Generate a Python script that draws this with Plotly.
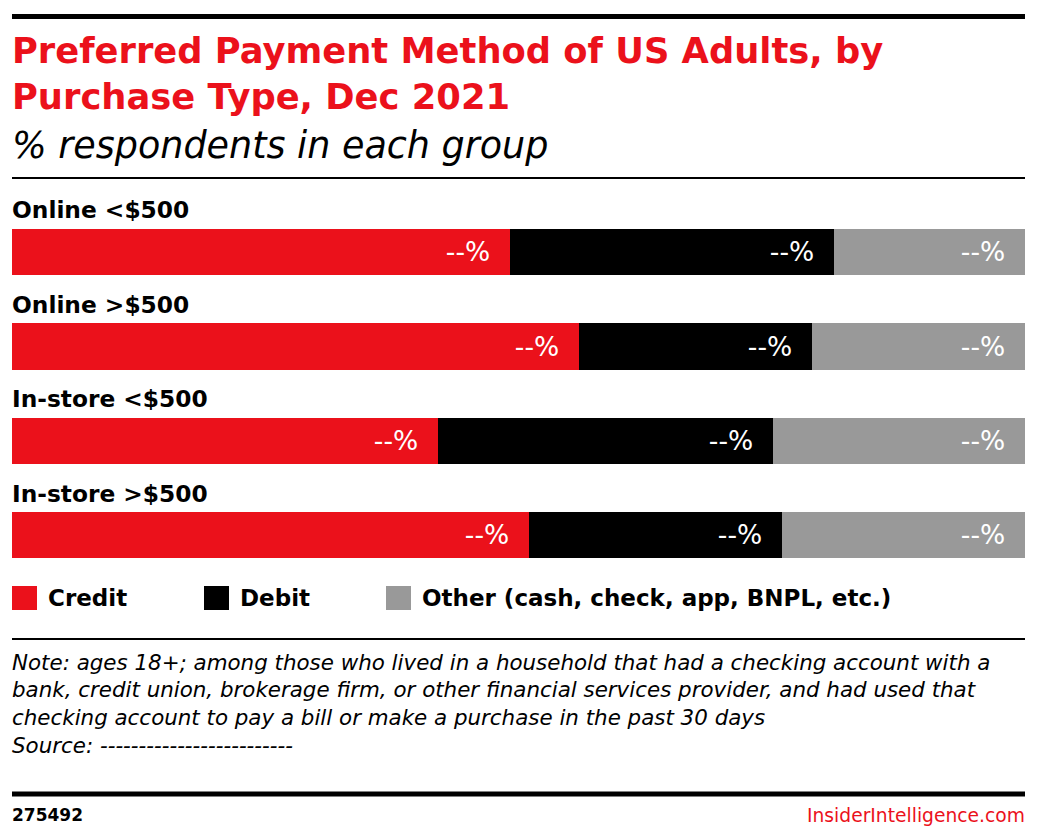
import plotly.graph_objects as go

W, H = 1038, 839

categories = ["Online <$500", "Online >$500", "In-store <$500", "In-store >$500"]
credit = [49.2, 56.0, 42.1, 51.0]
debit = [31.9, 23.0, 33.0, 25.0]
other = [18.9, 21.0, 24.9, 24.0]
bar_labels = ["--%", "--%", "--%", "--%"]
series_names = ["Credit", "Debit", "Other (cash, check, app, BNPL, etc.)"]
colors = ["#EB111B", "#000000", "#999999"]

RED = "#EB111B"
FONT = "DejaVu Sans"


def px(x):
    return x / W


def py(y):
    return 1 - y / H


ypos = list(range(len(categories)))

fig = go.Figure()
for name, vals, col in zip(series_names, [credit, debit, other], colors):
    fig.add_trace(go.Bar(
        y=ypos, x=vals, orientation="h", name=name,
        marker=dict(color=col, line=dict(width=0)),
        width=0.49,
        text=[t + "\u00a0\u00a0" for t in bar_labels],
        textposition="inside", insidetextanchor="end",
        textfont=dict(color="white", size=26.5, family=FONT),
        showlegend=False, hoverinfo="skip",
    ))

annotations = []
shapes = []


def txt(x, y, text, size, color="black", xanchor="left", yanchor="middle"):
    annotations.append(dict(x=px(x), y=py(y), xref="paper", yref="paper", text=text,
                            showarrow=False, xanchor=xanchor, yanchor=yanchor,
                            align="left", font=dict(size=size, family=FONT, color=color)))


# category labels above bars
for i, c in enumerate(categories):
    annotations.append(dict(x=0, y=i, xref="x", yref="y", text=f"<b>{c}</b>",
                            showarrow=False, xanchor="left", yanchor="middle",
                            yshift=42, xshift=-2,
                            font=dict(size=23.3, family=FONT, color="black")))

# title / subtitle
txt(10, 50.5, "<b>Preferred Payment Method of US Adults, by</b>", 35.3, RED)
txt(10, 96, "<b>Purchase Type, Dec 2021</b>", 35.3, RED)
txt(10, 146, "<i>% respondents in each group</i>", 36.5)

# legend (manual)
leg_x = [12, 204, 386]
for lx, name, col in zip(leg_x, series_names, colors):
    shapes.append(dict(type="rect", xref="paper", yref="paper",
                       x0=px(lx), x1=px(lx + 25), y0=py(586), y1=py(610),
                       fillcolor=col, line=dict(width=0)))
    txt(lx + 34, 598, f"<b>{name}</b>", 23)

# note
note_lines = [
    "Note: ages 18+; among those who lived in a household that had a checking account with a",
    "bank, credit union, brokerage firm, or other financial services provider, and had used that",
    "checking account to pay a bill or make a purchase in the past 30 days",
    "Source: -------------------------",
]
for k, line in enumerate(note_lines):
    txt(10, 662 + k * 27.7, f"<i>{line}</i>", 21.4)

# footer
txt(10, 815, "<b>275492</b>", 17)
txt(1027, 815, "InsiderIntelligence.com", 18.7, RED, xanchor="right")

# rules
for y, w in [(16.5, 5), (178, 2), (639, 2), (794, 5)]:
    shapes.append(dict(type="line", xref="paper", yref="paper",
                       x0=px(12), x1=px(1025), y0=py(y), y1=py(y),
                       line=dict(color="black", width=w)))

fig.update_layout(
    width=W, height=H, barmode="stack",
    margin=dict(l=0, r=0, t=0, b=0),
    paper_bgcolor="white", plot_bgcolor="white",
    xaxis=dict(domain=[px(12), px(1025)], range=[0, 100], visible=False, fixedrange=True),
    yaxis=dict(domain=[py(582.2), py(204.8)], range=[3.5, -0.5], visible=False, fixedrange=True),
    annotations=annotations, shapes=shapes,
    bargap=0,
    uniformtext=dict(minsize=26.5, mode="show"),
)

fig.write_html("out.html")
